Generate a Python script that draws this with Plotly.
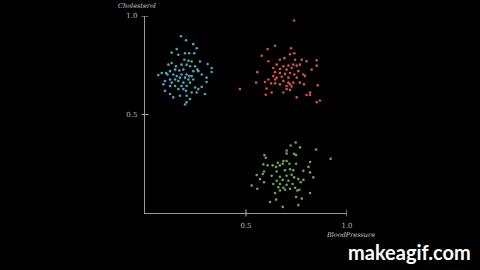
import plotly.graph_objects as go

# Blue cluster
blue_x = [0.178,0.203,0.239,0.157,0.256,0.132,0.198,0.219,0.244,0.165,0.195,0.215,0.231,0.272,0.310,0.330,
          0.116,0.132,0.153,0.181,0.206,0.223,0.248,0.259,0.239,0.190,0.170,0.149,0.124,0.104,0.083,0.066,
          0.111,0.140,0.157,0.181,0.206,0.219,0.231,0.264,0.281,0.305,0.330,0.124,0.149,0.173,0.198,0.215,
          0.239,0.099,0.132,0.165,0.190,0.223,0.305,0.091,0.124,0.149,0.181,0.206,0.248,0.281,0.264,0.099,
          0.165,0.190,0.203,0.231,0.256,0.124,0.140,0.173,0.206,0.297,0.223,0.206,0.198]
blue_y = [0.897,0.877,0.857,0.832,0.836,0.814,0.811,0.811,0.811,0.803,0.778,0.773,0.769,0.769,0.756,0.736,
          0.753,0.761,0.745,0.753,0.753,0.745,0.745,0.728,0.720,0.728,0.723,0.728,0.720,0.711,0.711,0.700,
          0.703,0.703,0.695,0.703,0.703,0.695,0.695,0.720,0.703,0.687,0.716,0.678,0.678,0.687,0.687,0.678,
          0.678,0.670,0.662,0.670,0.662,0.662,0.665,0.653,0.645,0.645,0.645,0.645,0.637,0.640,0.629,0.620,
          0.629,0.629,0.620,0.612,0.612,0.604,0.587,0.595,0.595,0.604,0.579,0.562,0.551]

# Red cluster
red_x = [0.738,0.644,0.607,0.723,0.578,0.718,0.739,0.611,0.668,0.690,0.743,0.776,0.800,0.850,0.850,0.652,
         0.685,0.710,0.734,0.751,0.767,0.635,0.668,0.701,0.726,0.759,0.825,0.556,0.644,0.668,0.693,0.718,
         0.739,0.784,0.792,0.635,0.652,0.677,0.710,0.751,0.611,0.644,0.685,0.710,0.734,0.767,0.787,0.550,
         0.594,0.624,0.644,0.668,0.701,0.718,0.726,0.855,0.602,0.701,0.718,0.817,0.470,0.627,0.685,0.598,
         0.800,0.817,0.751,0.866,0.850]
red_y = [0.977,0.849,0.832,0.836,0.798,0.806,0.811,0.770,0.778,0.786,0.778,0.778,0.770,0.775,0.748,0.753,
         0.745,0.748,0.753,0.748,0.753,0.736,0.731,0.728,0.736,0.720,0.728,0.715,0.715,0.711,0.706,0.711,
         0.703,0.703,0.695,0.695,0.687,0.692,0.687,0.687,0.678,0.678,0.670,0.662,0.662,0.662,0.653,0.662,
         0.665,0.658,0.658,0.653,0.645,0.653,0.642,0.648,0.632,0.629,0.625,0.612,0.629,0.612,0.612,0.600,
         0.599,0.599,0.587,0.571,0.562]

# Green cluster
green_x = [0.746,0.721,0.767,0.701,0.847,0.701,0.738,0.748,0.591,0.598,0.919,0.685,0.701,0.657,0.682,0.715,
           0.748,0.817,0.586,0.607,0.632,0.649,0.668,0.809,0.693,0.718,0.734,0.784,0.817,0.589,0.652,0.583,
           0.553,0.627,0.668,0.701,0.726,0.738,0.759,0.784,0.833,0.652,0.682,0.710,0.771,0.569,0.589,0.528,
           0.635,0.668,0.701,0.731,0.660,0.685,0.718,0.743,0.556,0.668,0.693,0.754,0.764,0.644,0.817,0.748,
           0.776,0.649,0.619,0.759,0.682]
green_y = [0.358,0.343,0.333,0.317,0.322,0.302,0.300,0.294,0.294,0.280,0.275,0.264,0.264,0.255,0.250,0.250,
           0.250,0.259,0.247,0.242,0.242,0.234,0.242,0.234,0.217,0.222,0.217,0.214,0.206,0.211,0.211,0.198,
           0.193,0.189,0.184,0.189,0.194,0.181,0.172,0.168,0.181,0.164,0.168,0.164,0.156,0.172,0.156,0.139,
           0.147,0.147,0.143,0.147,0.131,0.128,0.123,0.128,0.123,0.114,0.118,0.114,0.118,0.101,0.101,0.081,
           0.073,0.068,0.056,0.040,0.031]

tick_vals = [0.5, 1.0]
tick_text = ["0.5", "1.0"]

series = [(blue_x, blue_y, "#58C4DD"), (red_x, red_y, "#FC6255"), (green_x, green_y, "#83C167")]

fig = go.Figure()
for xs, ys, c in series:
    fig.add_trace(go.Scatter(x=xs, y=ys, mode="markers",
                             marker=dict(size=2.6, color=c, opacity=0.85, line=dict(width=0)),
                             showlegend=False, cliponaxis=False))

axis_col = "#9a9a9a"
lab_font = dict(family="DejaVu Serif", size=7, color="#bbbbbb")

fig.update_xaxes(range=[0, 1], showgrid=False, zeroline=False, showline=True, linecolor=axis_col,
                 linewidth=1.2, tickvals=tick_vals, ticktext=tick_text, ticks="outside", ticklen=5,
                 tickcolor="rgba(0,0,0,0)", tickfont=lab_font)
fig.update_yaxes(range=[0, 1], showgrid=False, zeroline=False, showline=True, linecolor=axis_col,
                 linewidth=1.2, tickvals=tick_vals, ticktext=tick_text, ticks="outside", ticklen=5,
                 tickcolor="rgba(0,0,0,0)", tickfont=lab_font)

# crossing tick marks (paper-referenced across the axis so they are not clipped)
for v in tick_vals:
    fig.add_shape(type="line", xref="x", yref="paper", x0=v, x1=v, ysizemode="pixel", yanchor=0,
                  y0=-3.5, y1=3.5, line=dict(color=axis_col, width=1.2))
    fig.add_shape(type="line", xref="paper", yref="y", y0=v, y1=v, xsizemode="pixel", xanchor=0,
                  x0=-3.5, x1=3.5, line=dict(color=axis_col, width=1.2))

title_font = dict(family="DejaVu Serif", size=6.5, color="#cccccc")
fig.add_annotation(text="<i>Cholesterol</i>", xref="paper", yref="paper", x=-0.04, y=1.052,
                   showarrow=False, font=title_font, xanchor="center", yanchor="middle")
fig.add_annotation(text="<i>BloodPressure</i>", xref="paper", yref="paper", x=1.015, y=-0.114,
                   showarrow=False, font=title_font, xanchor="center", yanchor="middle")
fig.add_annotation(text="<b>makeagif.com</b>", xref="paper", yref="paper", x=1.307, y=-0.196,
                   showarrow=False, font=dict(family="Lato", size=20, color="white"),
                   xanchor="center", yanchor="middle")

fig.update_layout(width=480, height=270, paper_bgcolor="black", plot_bgcolor="black",
                  margin=dict(l=145, r=133, t=12, b=57))

fig.write_html("out.html")
